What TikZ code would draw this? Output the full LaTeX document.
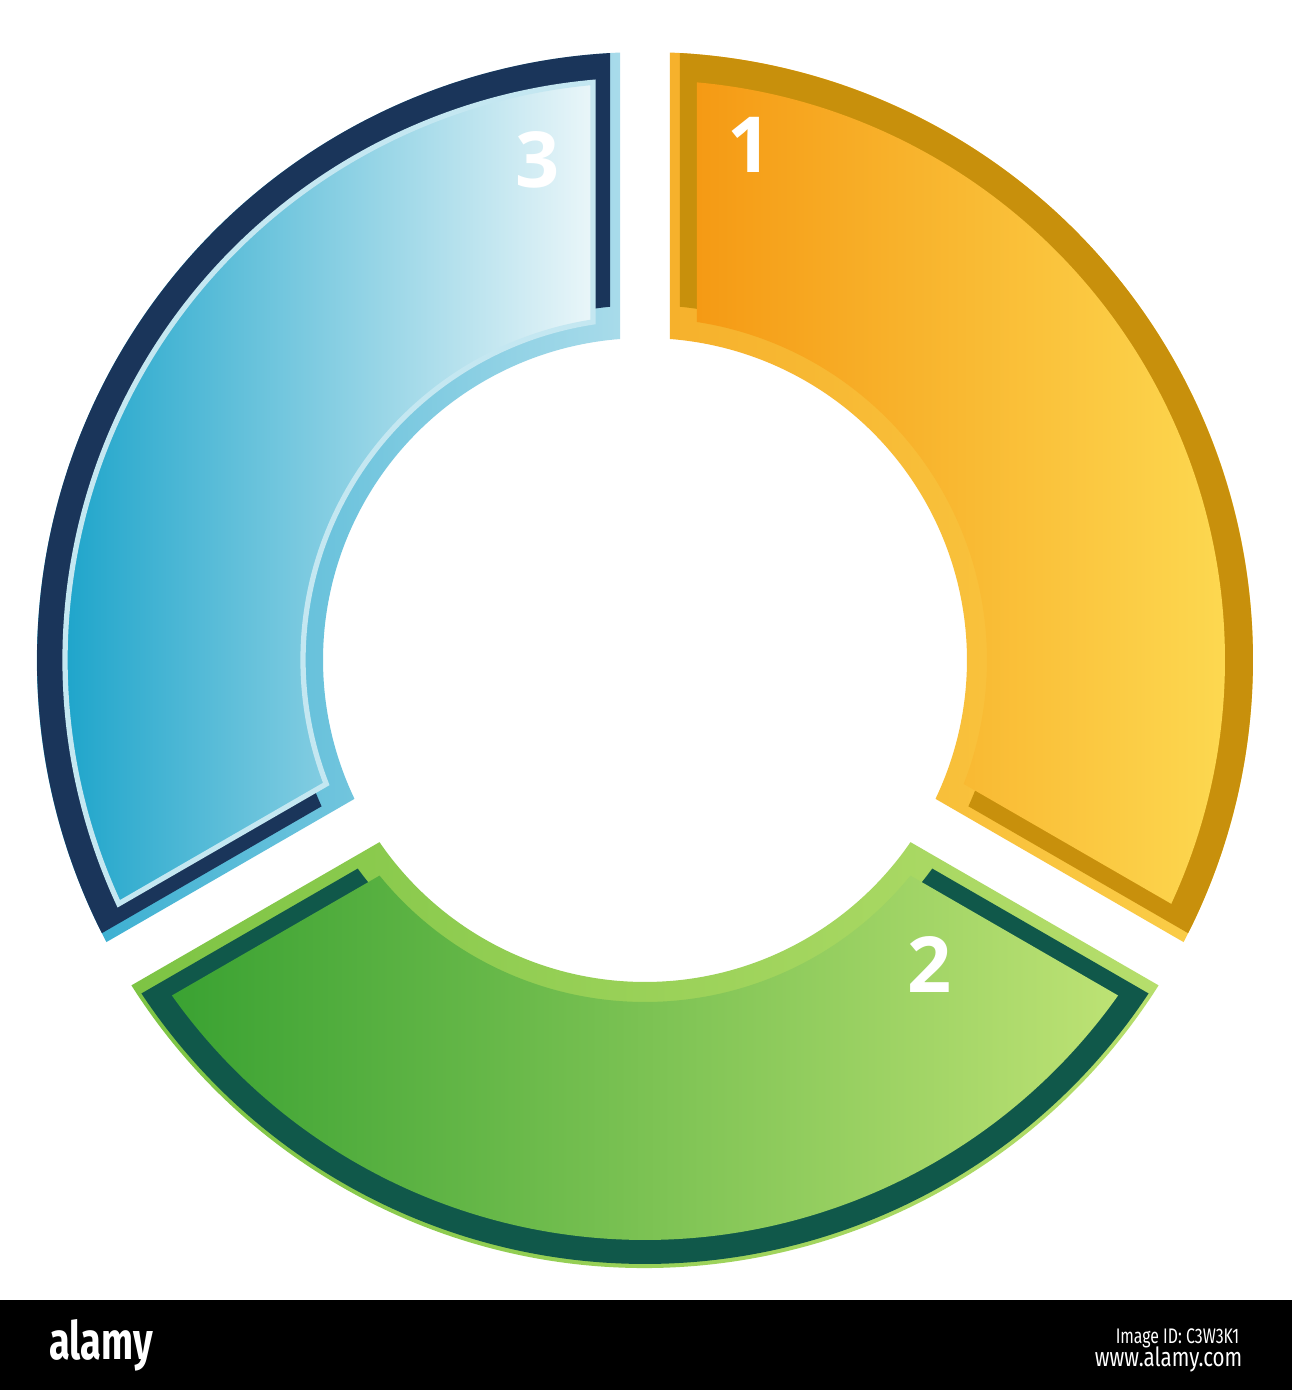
\documentclass[tikz,border=0pt]{standalone}
\usepackage{fontspec}
\usepackage{graphicx}
\setsansfont{Open Sans}
\newfontfamily\barfont{Fira Sans}

\definecolor{orgrimL}{HTML}{F6B12C}
\definecolor{orgrimR}{HTML}{FBD04A}
\definecolor{orgframe}{HTML}{C8900C}
\definecolor{orgpanL}{HTML}{F59A14}
\definecolor{orgpanR}{HTML}{FDDA52}
\definecolor{grnrimL}{HTML}{7DC444}
\definecolor{grnrimR}{HTML}{B6DE6C}
\definecolor{grnframe}{HTML}{10584A}
\definecolor{grnpanL}{HTML}{3AA232}
\definecolor{grnpanR}{HTML}{BDE274}
\definecolor{blurimL}{HTML}{1FA4CB}
\definecolor{blurimR}{HTML}{A8DBEA}
\definecolor{bluframe}{HTML}{1A355A}
\definecolor{blupanL}{HTML}{12A0C8}
\definecolor{blupanR}{HTML}{EAF6F9}

% ring segment: [options]{start angle}{end angle}{inner r}{outer r}{half gap}
\newcommand{\ringseg}[6][]{%
  \pgfmathsetmacro{\segdo}{asin(#6/#5)}%
  \pgfmathsetmacro{\segdi}{asin(#6/#4)}%
  \path[#1] ({#3-\segdo}:#5) arc[start angle={#3-\segdo}, end angle={#2+\segdo}, radius=#5]
    -- ({#2+\segdi}:#4) arc[start angle={#2+\segdi}, end angle={#3-\segdi}, radius=#4] -- cycle;}

\tikzset{
  numlabel/.style={text=white, font=\fontsize{22}{22}\selectfont\sffamily\bfseries},
  bartext/.style={text=white, anchor=east, inner sep=0pt}
}

\begin{document}
\begin{tikzpicture}
	\useasboundingbox (0,0) rectangle (12.92,13.90);
	\fill[white] (0,0) rectangle (12.92,13.90);
	\begin{scope}[shift={(6.45,7.30)}]
		% 1
		\ringseg[left color=orgrimL, right color=orgrimR]{-30}{90}{3.22}{6.08}{0.25}
		\ringseg[fill=orgframe]{-30}{90}{3.55}{6.08}{0.35}
		\ringseg[left color=orgpanL, right color=orgpanR]{-30}{90}{3.42}{5.80}{0.52}
		% 2
		\ringseg[left color=grnrimL, right color=grnrimR]{-150}{-30}{3.22}{6.08}{0.25}
		\ringseg[fill=grnframe]{-150}{-30}{3.55}{6.04}{0.37}
		\ringseg[left color=grnpanL, right color=grnpanR]{-150}{-30}{3.42}{5.80}{0.54}
		% 3
		\ringseg[left color=blurimL, right color=blurimR]{90}{210}{3.22}{6.08}{0.25}
		\ringseg[fill=bluframe]{90}{210}{3.55}{6.08}{0.35}
		\ringseg[left color=blupanL, right color=blupanR, draw=white!75!blupanL, line width=1.5pt]{90}{210}{3.42}{5.80}{0.52}
	\end{scope}
	\node[numlabel] (num1) at (7.50,12.45) {1};
	\node[numlabel] (num2) at (9.30,4.25) {2};
	\node[numlabel] (num3) at (5.38,12.30) {3};
	% bar
	\fill[black] (0,0) rectangle (12.92,0.90);
	\node[text=white, inner sep=0pt] (logo) at (1.01,0.45) {\scalebox{0.72}[1]{\barfont\bfseries\fontsize{15}{15}\selectfont alamy}};
	\node[bartext] (imgid) at (12.40,0.52) {\scalebox{0.75}[1]{\barfont\fontsize{6}{6}\selectfont Image ID: C3W3K1}};
	\node[bartext] (site) at (12.43,0.31) {\scalebox{0.78}[1]{\barfont\fontsize{7.5}{7.5}\selectfont www.alamy.com}};
\end{tikzpicture}
\end{document}
